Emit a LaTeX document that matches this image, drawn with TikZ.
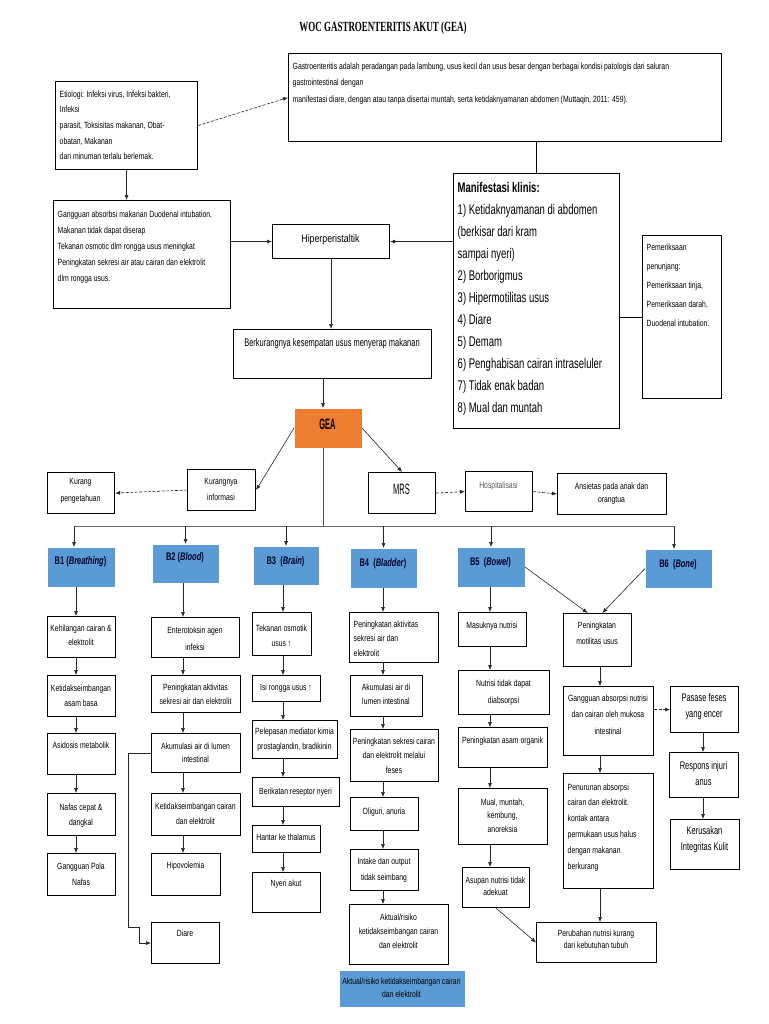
\documentclass[tikz,border=0pt]{standalone}
\usepackage{fontspec}
\setmainfont{Liberation Sans}
\newfontfamily\fA{Liberation Sans}[FakeStretch=0.76]
\newfontfamily\fB{Liberation Sans}[FakeStretch=0.68]
\newfontfamily\fD{Liberation Sans}[FakeStretch=0.8]
\newfontfamily\fC{Liberation Sans}[FakeStretch=0.5]
\newfontfamily\fT{Liberation Serif}[FakeStretch=0.64]
\usetikzlibrary{arrows.meta}
\definecolor{gorange}{HTML}{ED7D31}
\definecolor{bblue}{HTML}{5B9BD5}
\tikzset{
 box/.style={draw=black, line width=1.1pt, inner sep=0pt, fill=white},
 bluebox/.style={draw=none, fill=bblue},
 txt/.style={inner sep=0pt, anchor=north, align=center, text=black},
 tsm/.style={font=\fA\fontsize{9}{#1}\selectfont, yshift=3.6pt},
 tsm/.default=14,
 tmd/.style={font=\fB\fontsize{11}{#1}\selectfont, yshift=4.4pt},
 tmd/.default=16,
 tlg/.style={font=\fB\fontsize{14}{#1}\selectfont, yshift=5.6pt},
 tlg/.default=22,
 tbb/.style={font=\fB\bfseries\fontsize{11}{13}\selectfont, yshift=4.4pt, text=black!85!blue},
 tbig/.style={font=\fC\fontsize{15}{17}\selectfont, yshift=6pt},
 arr/.style={-{Latex[length=5pt,width=4pt]}, line width=0.6pt, draw=black!85},
 dsh/.style={arr, dash pattern=on 3pt off 1.5pt},
 ln/.style={line width=0.9pt, draw=black},
}
% box with centred text: box style, text style, name, x1, y1, x2, y2, text y, text
\newcommand\bx[9]{%
  \node[box,#1,minimum width={(#6-#4)*1pt},minimum height={(#7-#5)*1pt},anchor=north west] (#3) at (#4,#5) {};
  \node[txt,#2] (#3-t) at ({(#4+#6)/2},#8) {#9};
}
% box with left-aligned text
\newcommand\bxl[9]{%
  \node[box,#1,minimum width={(#6-#4)*1pt},minimum height={(#7-#5)*1pt},anchor=north west] (#3) at (#4,#5) {};
  \node[txt,anchor=north west,align=left,#2] (#3-t) at ({#4+4.5},#8) {#9};
}
\begin{document}
\begin{tikzpicture}[x=1pt,y=-1pt]
\fill[white] (0,0) rectangle (768,1024);
\useasboundingbox (0,0) rectangle (768,1024);

\node[font=\fT\bfseries\fontsize{14}{16}\selectfont, inner sep=0pt] (title) at (383,28) {WOC GASTROENTERITIS AKUT (GEA)};

% ---- top part
\bxl{}{tsm=15.7}{etio}{55}{81}{197}{169}{94}{Etiologi: Infeksi virus, Infeksi bakteri,\\Infeksi\\parasit, Toksisitas makanan, Obat-\\obatan, Makanan\\dan minuman terlalu berlemak.}
\bxl{}{tsm=16.5}{def}{288}{53}{721}{141}{66}{Gastroenteritis adalah peradangan pada lambung, usus kecil dan usus besar dengan berbagai kondisi patologis dari saluran\\gastrointestinal dengan\\manifestasi diare, dengan atau tanpa disertai muntah, serta ketidaknyamanan abdomen (Muttaqin, 2011: 459).}
\bxl{}{tsm=16}{gang}{53}{200}{230}{308}{214}{Gangguan absorbsi makanan Duodenal intubation.\\Makanan tidak dapat diserap\\Tekanan osmotic dlm rongga usus meningkat\\Peningkatan sekresi air atau cairan dan elektrolit\\dlm rongga usus.}
\bx{}{font=\fD\fontsize{11}{13}\selectfont,yshift=4.4pt}{hiper}{272}{224}{389}{258}{239}{Hiperperistaltik}
\bx{}{tmd=13}{berk}{233}{329}{431}{378}{343}{Berkurangnya kesempatan usus menyerap makanan}
\bx{draw=none,fill=gorange}{font=\fC\bfseries\fontsize{15}{17}\selectfont,yshift=6pt}{gea}{294}{408}{361}{447}{425}{GEA}
\bxl{}{tlg=22}{manif}{453}{173}{619}{428}{188}{\textbf{Manifestasi klinis:}\\1) Ketidaknyamanan di abdomen\\(berkisar dari kram\\sampai nyeri)\\2) Borborigmus\\3) Hipermotilitas usus\\4) Diare\\5) Demam\\6) Penghabisan cairan intraseluler\\7) Tidak enak badan\\8) Mual dan muntah}
\bxl{}{tsm=19}{pem}{642}{235}{721}{398}{247}{Pemeriksaan\\penunjang:\\Pemeriksaan tinja,\\Pemeriksaan darah,\\Duodenal intubation.}

% ---- middle row
\bx{}{tsm=17}{kpeng}{47}{472}{114}{513}{482}{Kurang\\pengetahuan}
\bx{}{tsm=16}{kinfo}{187}{469}{255}{510}{482}{Kurangnya\\informasi}
\bx{}{tbig}{mrs}{368}{472}{435}{513}{490}{MRS}
\bx{}{tsm,text=black!65}{hosp}{465}{471}{532}{511}{485}{Hospitalisasi}
\bx{}{tsm=13}{ans}{557}{473}{666}{514}{486}{Ansietas pada anak dan\\orangtua}

% ---- B boxes
\bx{bluebox}{tbb}{b1}{47}{547}{114}{586}{561}{B1 (\textit{Breathing})}
\bx{bluebox}{tbb}{b2}{152}{544}{218}{582}{557}{B2 (\textit{Blood})}
\bx{bluebox}{tbb}{b3}{253}{546}{318}{584}{561}{B3 \ (\textit{Brain})}
\bx{bluebox}{tbb}{b4}{350}{548}{416}{587}{563}{B4 \ (\textit{Bladder})}
\bx{bluebox}{tbb}{b5}{457}{547}{524}{586}{562}{B5 \ (\textit{Bowel})}
\bx{bluebox}{tbb}{b6}{645}{549}{711}{587}{564}{B6 \ (\textit{Bone})}

% ---- B1 column
\bx{}{tsm=14}{c1a}{47}{616}{115}{657}{628}{Kehilangan cairan \&\\elektrolit}
\bx{}{tsm=15}{c1b}{47}{675}{115}{716}{688}{Ketidakseimbangan\\asam basa}
\bx{}{tsm}{c1c}{47}{733}{115}{774}{745}{Asidosis metabolik}
\bx{}{tsm=15}{c1d}{47}{793}{115}{835}{807}{Nafas cepat \&\\dangkal}
\bx{}{tsm=16}{c1e}{47}{853}{115}{895}{866}{Gangguan Pola\\Nafas}

% ---- B2 column
\bx{}{tsm=17}{c2a}{151}{617}{239}{657}{630}{Enterotoksin agen\\infeksi}
\bx{}{tsm=14}{c2b}{151}{675}{240}{712}{687}{Peningkatan aktivitas\\sekresi air dan elektrolit}
\bx{}{tsm=13}{c2c}{151}{733}{240}{772}{746}{Akumulasi air di lumen\\intestinal}
\bx{}{tsm=15}{c2d}{151}{793}{240}{835}{806}{Ketidakseimbangan cairan\\dan elektrolit}
\bx{}{tsm}{c2e}{151}{853}{220}{895}{865}{Hipovolemia}
\bx{}{tsm}{c2f}{151}{922}{219}{963}{933}{Diare}

% ---- B3 column
\bx{}{tsm=15}{c3a}{252}{612}{311}{655}{628}{Tekanan osmotik\\usus ↑}
\bx{}{tsm}{c3b}{252}{675}{320}{701}{687}{Isi rongga usus ↑}
\bx{}{tsm=15}{c3c}{252}{720}{337}{758}{731}{Pelepasan mediator kimia\\prostaglandin, bradikinin}
\bx{}{tsm}{c3d}{252}{777}{339}{806}{791}{Berikatan reseptor nyeri}
\bx{}{tsm}{c3e}{252}{825}{320}{852}{837}{Hantar ke thalamus}
\bx{}{tsm}{c3f}{252}{872}{320}{912}{883}{Nyeri akut}

% ---- B4 column
\bxl{}{tsm=14.5}{c4a}{349}{612}{438}{662}{624}{Peningkatan aktivitas\\sekresi air dan\\elektrolit}
\bx{}{tsm=14}{c4b}{350}{675}{422}{716}{687}{Akumulasi air di\\lumen intestinal}
\bx{}{tsm=14.5}{c4c}{350}{729}{438}{781}{741}{Peningkatan sekresi cairan\\dan elektrolit melalui\\feses}
\bx{}{tsm}{c4d}{350}{797}{418}{830}{811}{Oliguri, anuria}
\bx{}{tsm=16}{c4e}{350}{849}{418}{890}{861}{Intake dan output\\tidak seimbang}
\bx{}{tsm=14}{c4f}{349}{904}{448}{964}{917}{Aktual/risiko\\ketidakseimbangan cairan\\dan elektrolit}
\bx{bluebox}{tsm=13}{c4g}{339}{970}{464}{1006}{981}{Aktual/risiko ketidakseimbangan cairan\\dan elektrolit}

% ---- B5 column
\bx{}{tsm}{c5a}{458}{612}{526}{646}{625}{Masuknya nutrisi}
\bx{}{tsm=17}{c5b}{458}{670}{549}{714}{683}{Nutrisi tidak dapat\\diabsorpsi}
\bx{}{tsm}{c5c}{458}{727}{547}{767}{740}{Peningkatan asam organik}
\bx{}{tsm=13.5}{c5d}{458}{788}{547}{844}{802}{Mual, muntah,\\kembung,\\anoreksia}
\bx{}{tsm=12}{c5e}{462}{867}{529}{907}{880}{Asupan nutrisi tidak\\adekuat}
\bx{}{tsm=12}{perub}{536}{922}{656}{962}{933}{Perubahan nutrisi kurang\\dari kebutuhan tubuh}

% ---- B6 region
\bx{}{tsm=16}{mot}{563}{613}{631}{666}{625}{Peningkatan\\motilitas usus}
\bx{}{tsm=16.5}{gab}{563}{686}{653}{755}{698}{Gangguan absorpsi nutrisi\\dan cairan oleh mukosa\\intestinal}
\bxl{}{tsm=15.8}{pen}{563}{773}{653}{888}{787}{Penurunan absorpsi\\cairan dan elektrolit.\\kontak antara\\permukaan usus halus\\dengan makanan\\berkurang}
\bx{}{tmd=16}{pas}{670}{686}{738}{732}{698}{Pasase feses\\yang encer}
\bx{}{tmd=16}{res}{669}{752}{738}{797}{766}{Respons injuri\\anus}
\bx{}{tmd=16}{ker}{670}{819}{739}{869}{831}{Kerusakan\\Integritas Kulit}

% ---- column coordinates
\coordinate (xg) at (323,0);
\coordinate (cx1) at (76,0);
\coordinate (cx2) at (183,0);
\coordinate (cx3) at (283,0);
\coordinate (cx4) at (383,0);
\coordinate (cx5) at (490,0);
\coordinate (cx6) at (600,0);
\coordinate (cx7) at (703,0);
\coordinate (busL) at (74,526);
\coordinate (busR) at (674,526);

% ---- connectors top
\draw[dsh] (etio.east) -- (def.west);
\draw[arr] (etio.south) -- (etio.south |- gang.north);
\draw[ln] (def.south -| manif.north) -- (manif.north);
\draw[arr] (gang.east |- hiper.west) -- (hiper.west);
\draw[arr] (manif.west |- hiper.east) -- (hiper.east);
\draw[ln] (manif.east |- pem.west) -- (pem.west);
\draw[arr] (hiper.south) -- (hiper.south |- berk.north);
\draw[arr] (berk.south -| xg) -- (gea.north -| xg);
\draw[arr] (gea.west) -- (kinfo.east);
\draw[dsh] (kinfo.west) -- (kpeng.east);
\draw[arr] (gea.east) -- (mrs.north);
\draw[dsh] (mrs.east) -- (hosp.west);
\draw[dsh] (hosp.east) -- (ans.west);

% ---- bus
\draw[line width=0.9pt, draw=black!70] (gea.south -| xg) -- (xg |- busL);
\draw[line width=0.9pt, draw=black!60] (busL) -- (busR);
\draw[arr] (busL) -- (busL |- b1.north);
\draw[arr] (b2.north |- busL) -- (b2.north);
\draw[arr] (b3.north |- busL) -- (b3.north);
\draw[arr] (b4.north |- busL) -- (b4.north);
\draw[arr] (b5.north |- busL) -- (b5.north);
\draw[arr] (busR) -- (busR |- b6.north);

% ---- B1
\draw[arr] (b1.south -| cx1) -- (c1a.north -| cx1);
\draw[arr] (c1a.south -| cx1) -- (c1b.north -| cx1);
\draw[arr] (c1b.south -| cx1) -- (c1c.north -| cx1);
\draw[arr] (c1c.south -| cx1) -- (c1d.north -| cx1);
\draw[arr] (c1d.south -| cx1) -- (c1e.north -| cx1);
% ---- B2
\draw[arr] (b2.south -| cx2) -- (c2a.north -| cx2);
\draw[arr] (c2a.south -| cx2) -- (c2b.north -| cx2);
\draw[arr] (c2b.south -| cx2) -- (c2c.north -| cx2);
\draw[arr] (c2c.south -| cx2) -- (c2d.north -| cx2);
\draw[arr] (c2d.south -| cx2) -- (c2e.north -| cx2);
\draw[arr] (c2c.west) -| (128,927) -- (139,927) |- (c2f.west);
% ---- B3
\draw[arr] (b3.south -| cx3) -- (c3a.north -| cx3);
\draw[arr] (c3a.south -| cx3) -- (c3b.north -| cx3);
\draw[arr] (c3b.south -| cx3) -- (c3c.north -| cx3);
\draw[arr] (c3c.south -| cx3) -- (c3d.north -| cx3);
\draw[arr] (c3d.south -| cx3) -- (c3e.north -| cx3);
\draw[arr] (c3e.south -| cx3) -- (c3f.north -| cx3);
% ---- B4
\draw[arr] (b4.south -| cx4) -- (c4a.north -| cx4);
\draw[arr] (c4a.south -| cx4) -- (c4b.north -| cx4);
\draw[arr] (c4b.south -| cx4) -- (c4c.north -| cx4);
\draw[arr] (c4c.south -| cx4) -- (c4d.north -| cx4);
\draw[arr] (c4d.south -| cx4) -- (c4e.north -| cx4);
\draw[arr] (c4e.south -| cx4) -- (c4f.north -| cx4);
% ---- B5
\draw[arr] (b5.south -| cx5) -- (c5a.north -| cx5);
\draw[arr] (c5a.south -| cx5) -- (c5b.north -| cx5);
\draw[arr] (c5b.south -| cx5) -- (c5c.north -| cx5);
\draw[arr] (c5c.south -| cx5) -- (c5d.north -| cx5);
\draw[arr] (c5d.south -| cx5) -- (c5e.north -| cx5);
\draw[arr] (c5e.south) -- (perub.west);
% ---- B6 region
\draw[arr] (b5.east) -- (mot.110);
\draw[arr] (b6.west) -- (mot.80);
\draw[arr] (mot.south -| cx6) -- (gab.north -| cx6);
\draw[arr] (gab.south -| cx6) -- (pen.north -| cx6);
\draw[arr] (pen.south -| cx6) -- (perub.north -| cx6);
\draw[dsh] (gab.east |- pas.west) -- (pas.west);
\draw[arr] (pas.south -| cx7) -- (res.north -| cx7);
\draw[arr] (res.south -| cx7) -- (ker.north -| cx7);
\end{tikzpicture}
\end{document}
